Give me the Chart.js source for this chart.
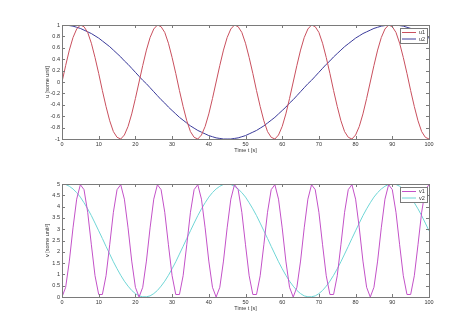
<!DOCTYPE html>
<html>
<head>
<meta charset="utf-8">
<script src="https://cdn.jsdelivr.net/npm/chart.js@4.4.1/dist/chart.umd.min.js"></script>
<style>
  body { margin: 0; background: #fff; }
  canvas { position: absolute; left: 0; }
  #topChart { top: 0; }
  #bottomChart { top: 167px; }
</style>
</head>
<body>
<canvas id="topChart" width="474" height="167"></canvas>
<canvas id="bottomChart" width="474" height="168"></canvas>
<script>
// sample times (s)
const time = [0,1,2,3,4,5,6,7,8,9,10,11,12,13,14,15,16,17,18,19,20,21,22,23,24,25,26,27,28,29,30,
  31,32,33,34,35,36,37,38,39,40,41,42,43,44,45,46,47,48,49,50,51,52,53,54,55,56,57,58,59,60,
  61,62,63,64,65,66,67,68,69,70,71,72,73,74,75,76,77,78,79,80,81,82,83,84,85,86,87,88,89,90,
  91,92,93,94,95,96,97,98,99,100];

// top panel
const u1 = [0,0.29,0.56,0.78,0.93,1,0.97,0.87,0.68,0.43,0.15,-0.15,-0.43,-0.68,-0.87,-0.97,-1,-0.93,-0.78,-0.56,-0.29,
  0,0.29,0.56,0.78,0.93,1,0.97,0.87,0.68,0.43,0.15,-0.15,-0.43,-0.68,-0.87,-0.97,-1,-0.93,-0.78,-0.56,-0.29,
  0,0.29,0.56,0.78,0.93,1,0.97,0.87,0.68,0.43,0.15,-0.15,-0.43,-0.68,-0.87,-0.97,-1,-0.93,-0.78,-0.56,-0.29,
  0,0.29,0.56,0.78,0.93,1,0.97,0.87,0.68,0.43,0.15,-0.15,-0.43,-0.68,-0.87,-0.97,-1,-0.93,-0.78,-0.56,-0.29,
  0,0.29,0.56,0.78,0.93,1,0.97,0.87,0.68,0.43,0.15,-0.15,-0.43,-0.68,-0.87,-0.97,-1];
const u2 = [1,1,0.99,0.98,0.96,0.94,0.91,0.88,0.85,0.81,0.77,0.72,0.67,0.62,0.56,0.5,0.44,0.37,0.31,0.24,0.17,0.1,0.03,
  -0.03,-0.1,-0.17,-0.24,-0.31,-0.37,-0.44,-0.5,-0.56,-0.62,-0.67,-0.72,-0.77,-0.81,-0.85,-0.88,-0.91,-0.94,-0.96,-0.98,-0.99,-1,-1,
  -1,-0.99,-0.98,-0.96,-0.94,-0.91,-0.88,-0.85,-0.81,-0.77,-0.72,-0.67,-0.62,-0.56,-0.5,-0.44,-0.37,-0.31,-0.24,-0.17,-0.1,-0.03,
  0.03,0.1,0.17,0.24,0.31,0.37,0.44,0.5,0.56,0.62,0.67,0.72,0.77,0.81,0.85,0.88,0.91,0.94,0.96,0.98,0.99,1,1,
  1,0.99,0.98,0.96,0.94,0.91,0.88,0.85,0.81,0.77];

// bottom panel
const v1 = [0,0.43,1.59,3.06,4.33,4.97,4.75,3.75,2.31,0.94,0.11,0.11,0.94,2.31,3.75,4.75,4.97,4.33,3.06,1.59,0.43,
  0,0.43,1.59,3.06,4.33,4.97,4.75,3.75,2.31,0.94,0.11,0.11,0.94,2.31,3.75,4.75,4.97,4.33,3.06,1.59,0.43,
  0,0.43,1.59,3.06,4.33,4.97,4.75,3.75,2.31,0.94,0.11,0.11,0.94,2.31,3.75,4.75,4.97,4.33,3.06,1.59,0.43,
  0,0.43,1.59,3.06,4.33,4.97,4.75,3.75,2.31,0.94,0.11,0.11,0.94,2.31,3.75,4.75,4.97,4.33,3.06,1.59,0.43,
  0,0.43,1.59,3.06,4.33,4.97,4.75,3.75,2.31,0.94,0.11,0.11,0.94,2.31,3.75,4.75,4.97];
const v2 = [5,4.98,4.9,4.78,4.62,4.42,4.17,3.9,3.6,3.27,2.93,2.59,2.24,1.9,1.56,1.25,0.96,0.7,0.48,0.29,0.15,0.05,0.01,
  0.01,0.05,0.15,0.29,0.48,0.7,0.96,1.25,1.56,1.9,2.24,2.59,2.93,3.27,3.6,3.9,4.17,4.42,4.62,4.78,4.9,4.98,5,
  4.98,4.9,4.78,4.62,4.42,4.17,3.9,3.6,3.27,2.93,2.59,2.24,1.9,1.56,1.25,0.96,0.7,0.48,0.29,0.15,0.05,0.01,
  0.01,0.05,0.15,0.29,0.48,0.7,0.96,1.25,1.56,1.9,2.24,2.59,2.93,3.27,3.6,3.9,4.17,4.42,4.62,4.78,4.9,4.98,5,
  4.98,4.9,4.78,4.62,4.42,4.17,3.9,3.6,3.27,2.93];

const FONT = { family: 'Liberation Sans, Arial, sans-serif', size: 5.5 };
const TEXT = '#333';

function toPoints(ys) {
  return time.map((t, i) => ({ x: t, y: ys[i] }));
}

// matlab style box with inward ticks plus a small legend in the corner
const boxPlugin = {
  id: 'matlabBox',
  afterDraw(chart) {
    const ctx = chart.ctx;
    const a = chart.chartArea;
    const xs = chart.scales.x, ys = chart.scales.y;
    ctx.save();
    ctx.strokeStyle = '#7a7a7a';
    ctx.lineWidth = 1;
    ctx.strokeRect(a.left + 0.5, a.top + 0.5, a.right - a.left, a.bottom - a.top);
    ctx.beginPath();
    xs.ticks.forEach(t => {
      const px = Math.round(xs.getPixelForValue(t.value)) + 0.5;
      ctx.moveTo(px, a.bottom); ctx.lineTo(px, a.bottom - 3);
      ctx.moveTo(px, a.top); ctx.lineTo(px, a.top + 3);
    });
    ys.ticks.forEach(t => {
      const py = Math.round(ys.getPixelForValue(t.value)) + 0.5;
      ctx.moveTo(a.left, py); ctx.lineTo(a.left + 3, py);
      ctx.moveTo(a.right, py); ctx.lineTo(a.right - 3, py);
    });
    ctx.stroke();

    // legend
    const w = 27, h = 15;
    const lx = a.right - w - 2, ly = a.top + 3;
    ctx.fillStyle = '#fff';
    ctx.fillRect(lx, ly, w, h);
    ctx.strokeStyle = '#7a7a7a';
    ctx.strokeRect(lx + 0.5, ly + 0.5, w, h);
    ctx.font = '5.5px Liberation Sans, Arial, sans-serif';
    ctx.textBaseline = 'middle';
    chart.data.datasets.forEach((ds, i) => {
      const yy = ly + 4.5 + i * 6.5;
      ctx.strokeStyle = ds.borderColor;
      ctx.beginPath();
      ctx.moveTo(lx + 2, yy); ctx.lineTo(lx + 16, yy);
      ctx.stroke();
      ctx.fillStyle = TEXT;
      ctx.fillText(ds.label, lx + 19, yy);
    });
    ctx.restore();
  }
};

function makeChart(id, sets, yMin, yMax, yStep, yTitle, pad) {
  return new Chart(document.getElementById(id), {
    type: 'line',
    data: {
      datasets: sets.map(s => ({
        label: s.label,
        data: toPoints(s.data),
        borderColor: s.color,
        borderWidth: 1,
        pointRadius: 0,
        tension: 0,
        fill: false
      }))
    },
    options: {
      responsive: false,
      animation: false,
      devicePixelRatio: 1,
      layout: { padding: pad },
      plugins: { legend: { display: false }, tooltip: { enabled: false } },
      scales: {
        x: {
          type: 'linear', min: 0, max: 100,
          ticks: { stepSize: 10, font: FONT, color: TEXT, padding: 2, maxRotation: 0 },
          grid: { display: false, drawTicks: false, tickLength: 0 },
          border: { display: false },
          title: { display: true, text: 'Time t [s]', font: FONT, color: TEXT, padding: 0 },
          afterFit(scale) { scale.height = 15; }
        },
        y: {
          min: yMin, max: yMax,
          ticks: {
            stepSize: yStep, font: FONT, color: TEXT, padding: 2,
            callback: v => String(Number(v.toFixed(2)))
          },
          grid: { display: false, drawTicks: false, tickLength: 0 },
          border: { display: false },
          title: { display: true, text: yTitle, font: FONT, color: TEXT, padding: 0 },
          afterFit(scale) { scale.width = 18; }
        }
      }
    },
    plugins: [boxPlugin]
  });
}

makeChart('topChart', [
  { label: 'u1', data: u1, color: '#c9505e' },
  { label: 'u2', data: u2, color: '#3a3a9a' }
], -1, 1, 0.2, 'u [some unit]', { left: 44, right: 45, top: 25, bottom: 13 });

makeChart('bottomChart', [
  { label: 'v1', data: v1, color: '#c352c8' },
  { label: 'v2', data: v2, color: '#6fd6d6' }
], 0, 5, 0.5, 'v [some unit²]', { left: 44, right: 45, top: 17, bottom: 23 });
</script>
</body>
</html>
